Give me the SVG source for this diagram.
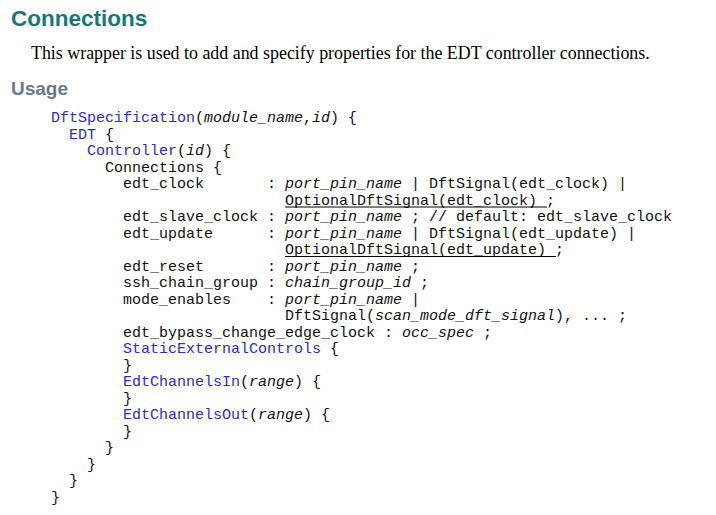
<svg xmlns="http://www.w3.org/2000/svg" width="716" height="515" viewBox="0 0 716 515">
<style>
.h{font-family:"Liberation Sans",Arial,sans-serif;font-weight:bold;font-size:22.5px}
.d{font-family:"Liberation Serif","Times New Roman",serif;font-size:17.9px;fill:#000}
.c text{font-family:"Liberation Mono","Courier New",monospace;font-size:15px;fill:#111;white-space:pre}
.b{fill:#2b2bd6}
.i{font-style:italic}
.u{stroke:#000;stroke-width:1.2}
</style>
<rect width="716" height="515" fill="#fff"/>
<text class="h" x="11" y="26" fill="#17767d">Connections</text>
<text class="d" x="31" y="59">This wrapper is used to add and specify properties for the EDT controller connections.</text>
<text class="h" x="11" y="95" fill="#6c7a89" style="font-size:19px">Usage</text>
<g class="c">
<text xml:space="preserve" x="51" y="122"><tspan class="b">DftSpecification</tspan>(<tspan class="i">module_name</tspan>,<tspan class="i">id</tspan>) {</text>
<text xml:space="preserve" x="69" y="138.5"><tspan class="b">EDT</tspan> {</text>
<text xml:space="preserve" x="87" y="155"><tspan class="b">Controller</tspan>(<tspan class="i">id</tspan>) {</text>
<text xml:space="preserve" x="105" y="171.5">Connections {</text>
<text xml:space="preserve" x="123" y="188">edt_clock       : <tspan class="i">port_pin_name</tspan> | DftSignal(edt_clock) |</text>
<text xml:space="preserve" x="285" y="204.5">OptionalDftSignal(edt_clock) ;</text>
<text xml:space="preserve" x="123" y="221">edt_slave_clock : <tspan class="i">port_pin_name</tspan> ; // default: edt_slave_clock</text>
<text xml:space="preserve" x="123" y="237.5">edt_update      : <tspan class="i">port_pin_name</tspan> | DftSignal(edt_update) |</text>
<text xml:space="preserve" x="285" y="254">OptionalDftSignal(edt_update) ;</text>
<text xml:space="preserve" x="123" y="270.5">edt_reset       : <tspan class="i">port_pin_name</tspan> ;</text>
<text xml:space="preserve" x="123" y="287">ssh_chain_group : <tspan class="i">chain_group_id</tspan> ;</text>
<text xml:space="preserve" x="123" y="303.5">mode_enables    : <tspan class="i">port_pin_name</tspan> |</text>
<text xml:space="preserve" x="285" y="320">DftSignal(<tspan class="i">scan_mode_dft_signal</tspan>), ... ;</text>
<text xml:space="preserve" x="123" y="336.5">edt_bypass_change_edge_clock : <tspan class="i">occ_spec</tspan> ;</text>
<text xml:space="preserve" x="123" y="353"><tspan class="b">StaticExternalControls</tspan> {</text>
<text xml:space="preserve" x="123" y="369.5">}</text>
<text xml:space="preserve" x="123" y="386"><tspan class="b">EdtChannelsIn</tspan>(<tspan class="i">range</tspan>) {</text>
<text xml:space="preserve" x="123" y="402.5">}</text>
<text xml:space="preserve" x="123" y="419"><tspan class="b">EdtChannelsOut</tspan>(<tspan class="i">range</tspan>) {</text>
<text xml:space="preserve" x="123" y="435.5">}</text>
<text xml:space="preserve" x="105" y="452">}</text>
<text xml:space="preserve" x="87" y="468.5">}</text>
<text xml:space="preserve" x="69" y="485">}</text>
<text xml:space="preserve" x="51" y="501.5">}</text>
</g>
<line class="u" x1="285" y1="207" x2="547" y2="207"/>
<line class="u" x1="285" y1="256.5" x2="556" y2="256.5"/>
</svg>
